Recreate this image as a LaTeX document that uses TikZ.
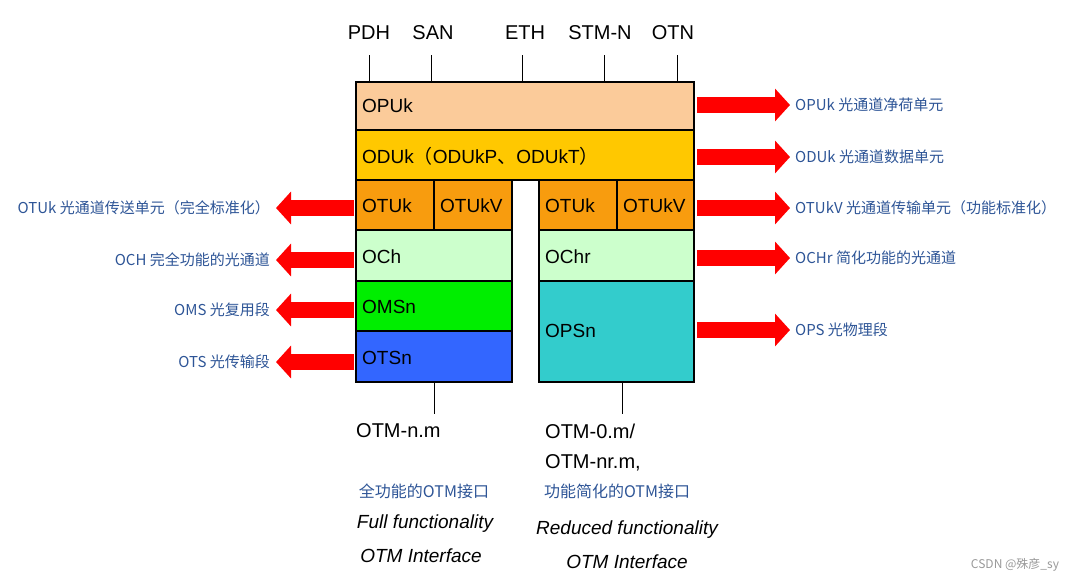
\documentclass[tikz,border=0pt]{standalone}
\usepackage{fontspec}
\setmainfont{Liberation Sans}
\newfontfamily\cjk{Noto Sans CJK SC}
\usetikzlibrary{arrows.meta}
\definecolor{cpeach}{HTML}{FBCB9A}
\definecolor{cgold}{HTML}{FFC800}
\definecolor{corange}{HTML}{F89C0E}
\definecolor{clgreen}{HTML}{CCFFCC}
\definecolor{cgreen}{HTML}{00EE00}
\definecolor{cblue}{HTML}{3366FF}
\definecolor{cteal}{HTML}{33CCCC}
\definecolor{cltext}{HTML}{2E5597}
\begin{document}
\begin{tikzpicture}[x=1pt,y=-1pt,
  layer/.style={draw=black,line width=1.2pt},
  lt/.style={anchor=west,font=\fontsize{19}{20}\selectfont,inner sep=0pt},
  lbl/.style={font=\fontsize{15}{16}\selectfont\cjk,text=cltext,inner sep=0pt},
  fat/.style={red,line width=16pt,-{Triangle[width=32pt,length=15pt]},shorten >=-1pt},
  tick/.style={black,line width=0.8pt},
  top/.style={font=\fontsize{20}{22}\selectfont,inner sep=0pt},
  ital/.style={font=\fontsize{19}{21}\selectfont\itshape,inner sep=0pt}]
\useasboundingbox (0,0) rectangle (1086,582);
\fill[white] (0,0) rectangle (1086,582);
% layers
\draw[layer,fill=cpeach] (356,82) rectangle (694,130); \node[lt] (opuk) at (362,106) {OPUk};
\draw[layer,fill=cgold] (356,130) rectangle (694,180); \node[lt] (oduk) at (362,156) {ODUk{\cjk（}ODUkP{\cjk、}ODUkT{\cjk）}};
\foreach \x/\w/\t/\n in {356/434/OTUk/a,434/512/OTUkV/b,539/617/OTUk/c,617/694/OTUkV/d}{
  \draw[layer,fill=corange] (\x,180) rectangle (\w,230);
  \node[lt] (otu\n) at (\x+6,206) {\t};}
\draw[layer,fill=clgreen] (356,230) rectangle (512,281); \node[lt] (och) at (362,257) {OCh};
\draw[layer,fill=clgreen] (539,230) rectangle (694,281); \node[lt] (ochr) at (545,257) {OChr};
\draw[layer,fill=cgreen] (356,281) rectangle (512,331); \node[lt] (oms) at (362,307) {OMSn};
\draw[layer,fill=cblue] (356,331) rectangle (512,382); \node[lt] (ots) at (362,358) {OTSn};
\draw[layer,fill=cteal] (539,281) rectangle (694,382); \node[lt] (ops) at (545,331) {OPSn};
% top labels
\foreach \x/\lx/\t in {369/369/PDH,431/433/SAN,522/525/ETH,604/600/STM-N,677/673/OTN}{
  \node[top] at (\lx,33) {\t};
  \draw[tick] (\x,55) -- (\x,82);}
% bottom
\draw[tick] (434,382) -- (434,414);
\draw[tick] (622,382) -- (622,414);
\node[top,anchor=west] (otmn) at (356,431) {OTM-n.m};
\node[top,anchor=west] (otm0) at (545,431) {OTM-0.m/};
\node[top,anchor=west] (otmr) at (545,463) {OTM-nr.m,};
\node[lbl,font=\fontsize{16}{17}\selectfont\cjk] at (424,491) {全功能的OTM接口};
\node[lbl,font=\fontsize{16}{17}\selectfont\cjk] at (617,491) {功能简化的OTM接口};
\node[ital] at (425,524) {Full functionality};
\node[ital] at (421,556) {OTM Interface};
\node[ital] at (627,530) {Reduced functionality};
\node[ital] at (627,562) {OTM Interface};
% right arrows
\foreach \y/\t in {105/OPUk 光通道净荷单元,157/ODUk 光通道数据单元,208/OTUkV 光通道传输单元（功能标准化）,258/OCHr 简化功能的光通道,330/OPS 光物理段}{
  \draw[fat] (697,\y) -- (789,\y);
  \node[lbl,anchor=west] at (795,\y) {\t};}
% left arrows
\foreach \y/\t in {208/OTUk 光通道传送单元（完全标准化）,260/OCH 完全功能的光通道,310/OMS 光复用段,362/OTS 光传输段}{
  \draw[fat] (354,\y) -- (277,\y);
  \node[lbl,anchor=east] at (270,\y) {\t};}
\node[font=\fontsize{12}{13}\selectfont\cjk,text=gray!80,inner sep=0pt] at (1015,565) {CSDN @殊彦\_sy};
\end{tikzpicture}
\end{document}
